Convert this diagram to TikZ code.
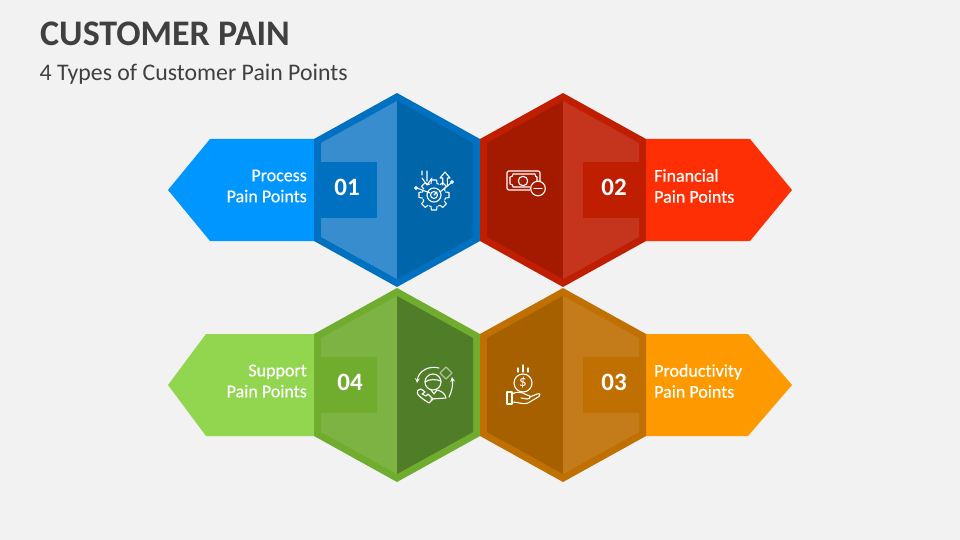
\documentclass[tikz,border=0pt]{standalone}
\usepackage{fontspec}
\setmainfont{Carlito}[Ligatures={NoCommon}]
\newfontfamily\labelfont{Carlito}[Ligatures={NoCommon},FakeBold=0.5]
\definecolor{BgGray}{HTML}{F2F2F2}
\definecolor{TitleGray}{HTML}{404040}
\definecolor{BlueArrow}{HTML}{0096FF}
\definecolor{BlueEdge}{HTML}{0070C0}
\definecolor{BlueLight}{HTML}{388DCE}
\definecolor{BlueDark}{HTML}{0065A9}
\definecolor{RedArrow}{HTML}{FF2F05}
\definecolor{RedEdge}{HTML}{C01E00}
\definecolor{RedLight}{HTML}{C5341C}
\definecolor{RedDark}{HTML}{A31A00}
\definecolor{GreenArrow}{HTML}{92D650}
\definecolor{GreenEdge}{HTML}{70AD2F}
\definecolor{GreenLight}{HTML}{7CB342}
\definecolor{GreenDark}{HTML}{507D27}
\definecolor{OrangeArrow}{HTML}{FF9900}
\definecolor{OrangeEdge}{HTML}{BF7000}
\definecolor{OrangeLight}{HTML}{C47C1A}
\definecolor{OrangeDark}{HTML}{A66000}
\tikzset{
  label text/.style={text=white,font=\labelfont\fontsize{18}{21}\selectfont,inner sep=0pt,align=#1},
  number text/.style={text=white,font=\fontsize{25}{25}\selectfont\bfseries,inner sep=0pt},
  icon line/.style={draw=white,line width=1.1pt,line join=round,line cap=round},
}
% one hexagon: centre x, centre y, edge, fill of its left half, fill of its right half
\newcommand\hexcell[5]{
  \fill[#3] (#1,#2-97) -- (#1+83,#2-51) -- (#1+83,#2+51) -- (#1,#2+97)
    -- (#1-83,#2+51) -- (#1-83,#2-51) -- cycle;
  \fill[#4] (#1,#2-89) -- (#1,#2+89) -- (#1-76,#2+47) -- (#1-76,#2-47) -- cycle;
  \fill[#5] (#1,#2-89) -- (#1,#2+89) -- (#1+76,#2+47) -- (#1+76,#2-47) -- cycle;
}
\begin{document}
\begin{tikzpicture}[x=1pt,y=-1pt]
  \fill[BgGray] (0,0) rectangle (960,540);
  \useasboundingbox (0,0) rectangle (960,540);

  \node[anchor=base west,inner sep=0pt,text=TitleGray,font=\fontsize{36}{36}\selectfont\bfseries] (title) at (40,46) {CUSTOMER PAIN};
  \node[anchor=base west,inner sep=0pt,text=TitleGray,font=\fontsize{23.8}{24}\selectfont] (subtitle) at (39.5,81) {4 Types of Customer Pain Points};

  % arrows
  \fill[BlueArrow] (168,190) -- (210,139) -- (320,139) -- (320,241) -- (210,241) -- cycle;
  \fill[RedArrow] (792,190) -- (750,139) -- (640,139) -- (640,241) -- (750,241) -- cycle;
  \fill[GreenArrow] (168,385) -- (206,334) -- (320,334) -- (320,436) -- (206,436) -- cycle;
  \fill[OrangeArrow] (792,385) -- (748,334) -- (640,334) -- (640,436) -- (748,436) -- cycle;

  % hexagons
  \hexcell{397}{190}{BlueEdge}{BlueLight}{BlueDark}
  \hexcell{563}{190}{RedEdge}{RedDark}{RedLight}
  \hexcell{397}{385}{GreenEdge}{GreenLight}{GreenDark}
  \hexcell{563}{385}{OrangeEdge}{OrangeDark}{OrangeLight}

  % number boxes
  \fill[BlueEdge] (318,162) rectangle (377,218);
  \fill[RedEdge] (583,162) rectangle (642,218);
  \fill[GreenEdge] (318,357) rectangle (377,413);
  \fill[OrangeEdge] (583,357) rectangle (642,413);

  \node[number text] (num1) at (347,187) {01};
  \node[number text] (num2) at (614,187) {02};
  \node[number text] (num4) at (350,382) {04};
  \node[number text] (num3) at (614,382) {03};

  \node[label text=right,anchor=east] (lab1) at (307,186) {Process\\Pain Points};
  \node[label text=left,anchor=west] (lab2) at (654,186) {Financial\\Pain Points};
  \node[label text=right,anchor=east] (lab4) at (307,381) {Support\\Pain Points};
  \node[label text=left,anchor=west] (lab3) at (654,381) {Productivity\\Pain Points};

  % gear icon
  \begin{scope}[shift={(434,195)},icon line]
    \foreach \a in {0,45,...,315}{
      \draw[rotate=\a] (-3,-11.5) -- (-2.6,-15) -- (2.6,-15) -- (3,-11.5) -- (4.6,-10.9);
    }
    \draw (0,0) circle (7);
    \draw (0,0) circle (3.5);
    \draw (0,0) -- (3,-3);
    \draw (-7,-24) -- (-7,-14) (-12,-24) -- (-12,-20) (-12,-17) -- (-7,-10) -- (-2,-17);
    \draw (8.7,-10) -- (8.7,-17) -- (6,-17) -- (11,-23) -- (16,-17) -- (13.3,-17) -- (13.3,-10);
    \draw (-17,-7) -- (-4,-2) (6,-3) -- (17,-12);
    \draw[fill=BlueDark] (-18,-7) circle (1.4);
    \draw[fill=BlueDark] (18,-13) circle (1.4);
  \end{scope}

  % banknote icon
  \begin{scope}[icon line]
    \draw[rounded corners=1.5pt] (530,190) -- (507,190) -- (507,171) -- (540,171) -- (540,182);
    \draw (513,174) -- (535,174) .. controls (535,176) and (536,177) .. (537,177) -- (537,181)
      (530,187) -- (513,187) .. controls (513,185) and (512,184) .. (510,184) -- (510,177)
      .. controls (512,177) and (513,176) .. (513,174);
    \draw (523,181) circle (4.7);
    \draw[fill=RedDark] (538,188.5) circle (7.3);
    \draw (534,188.5) -- (542,188.5);
  \end{scope}

  % headset icon
  \begin{scope}[shift={(433,382)},icon line]
    \draw (0,0) circle (8);
    \draw (-8,0) .. controls (-4,-3) and (3,-3) .. (8,-1);
    \draw (-2,8) -- (1,12) -- (4,8) .. controls (8,9) and (12,11) .. (13,16) -- (-2,17);
    \draw (-12,7) .. controls (-19,9) and (-17,13) .. (-4,21) -- (0,17) -- (-5,12) -- (-7,14)
      -- (-11,12) -- (-8,10) -- (-12,7);
    \draw[->,>=stealth] (6,-14) .. controls (-5,-17) and (-15,-10) .. (-16,1);
    \draw[->,>=stealth] (16,15) .. controls (19,9) and (20,3) .. (19,-5);
    \draw[opacity=.55] (7,-9) -- (13,-15) -- (19,-9) -- (13,-3) -- cycle;
  \end{scope}

  % coin in hand icon
  \begin{scope}[icon line]
    \draw (523,383) circle (9);
    \node[inner sep=0pt,text=white,font=\fontsize{15}{15}\selectfont] (dollar) at (523,383) {\$};
    \draw (518,368) -- (518,372) (523,365) -- (523,372) (528,368) -- (528,372);
    \draw (507,392) rectangle (512,404);
    \draw (512,394) .. controls (517,391) and (522,392) .. (527,395) -- (530,396)
      .. controls (531,398) and (529,399) .. (527,399) -- (521,398);
    \draw (530,397) -- (537,394) .. controls (540,393) and (541,395) .. (539,396.5)
      -- (528,403) .. controls (524,405) and (518,402) .. (512,402);
  \end{scope}
\end{tikzpicture}
\end{document}
